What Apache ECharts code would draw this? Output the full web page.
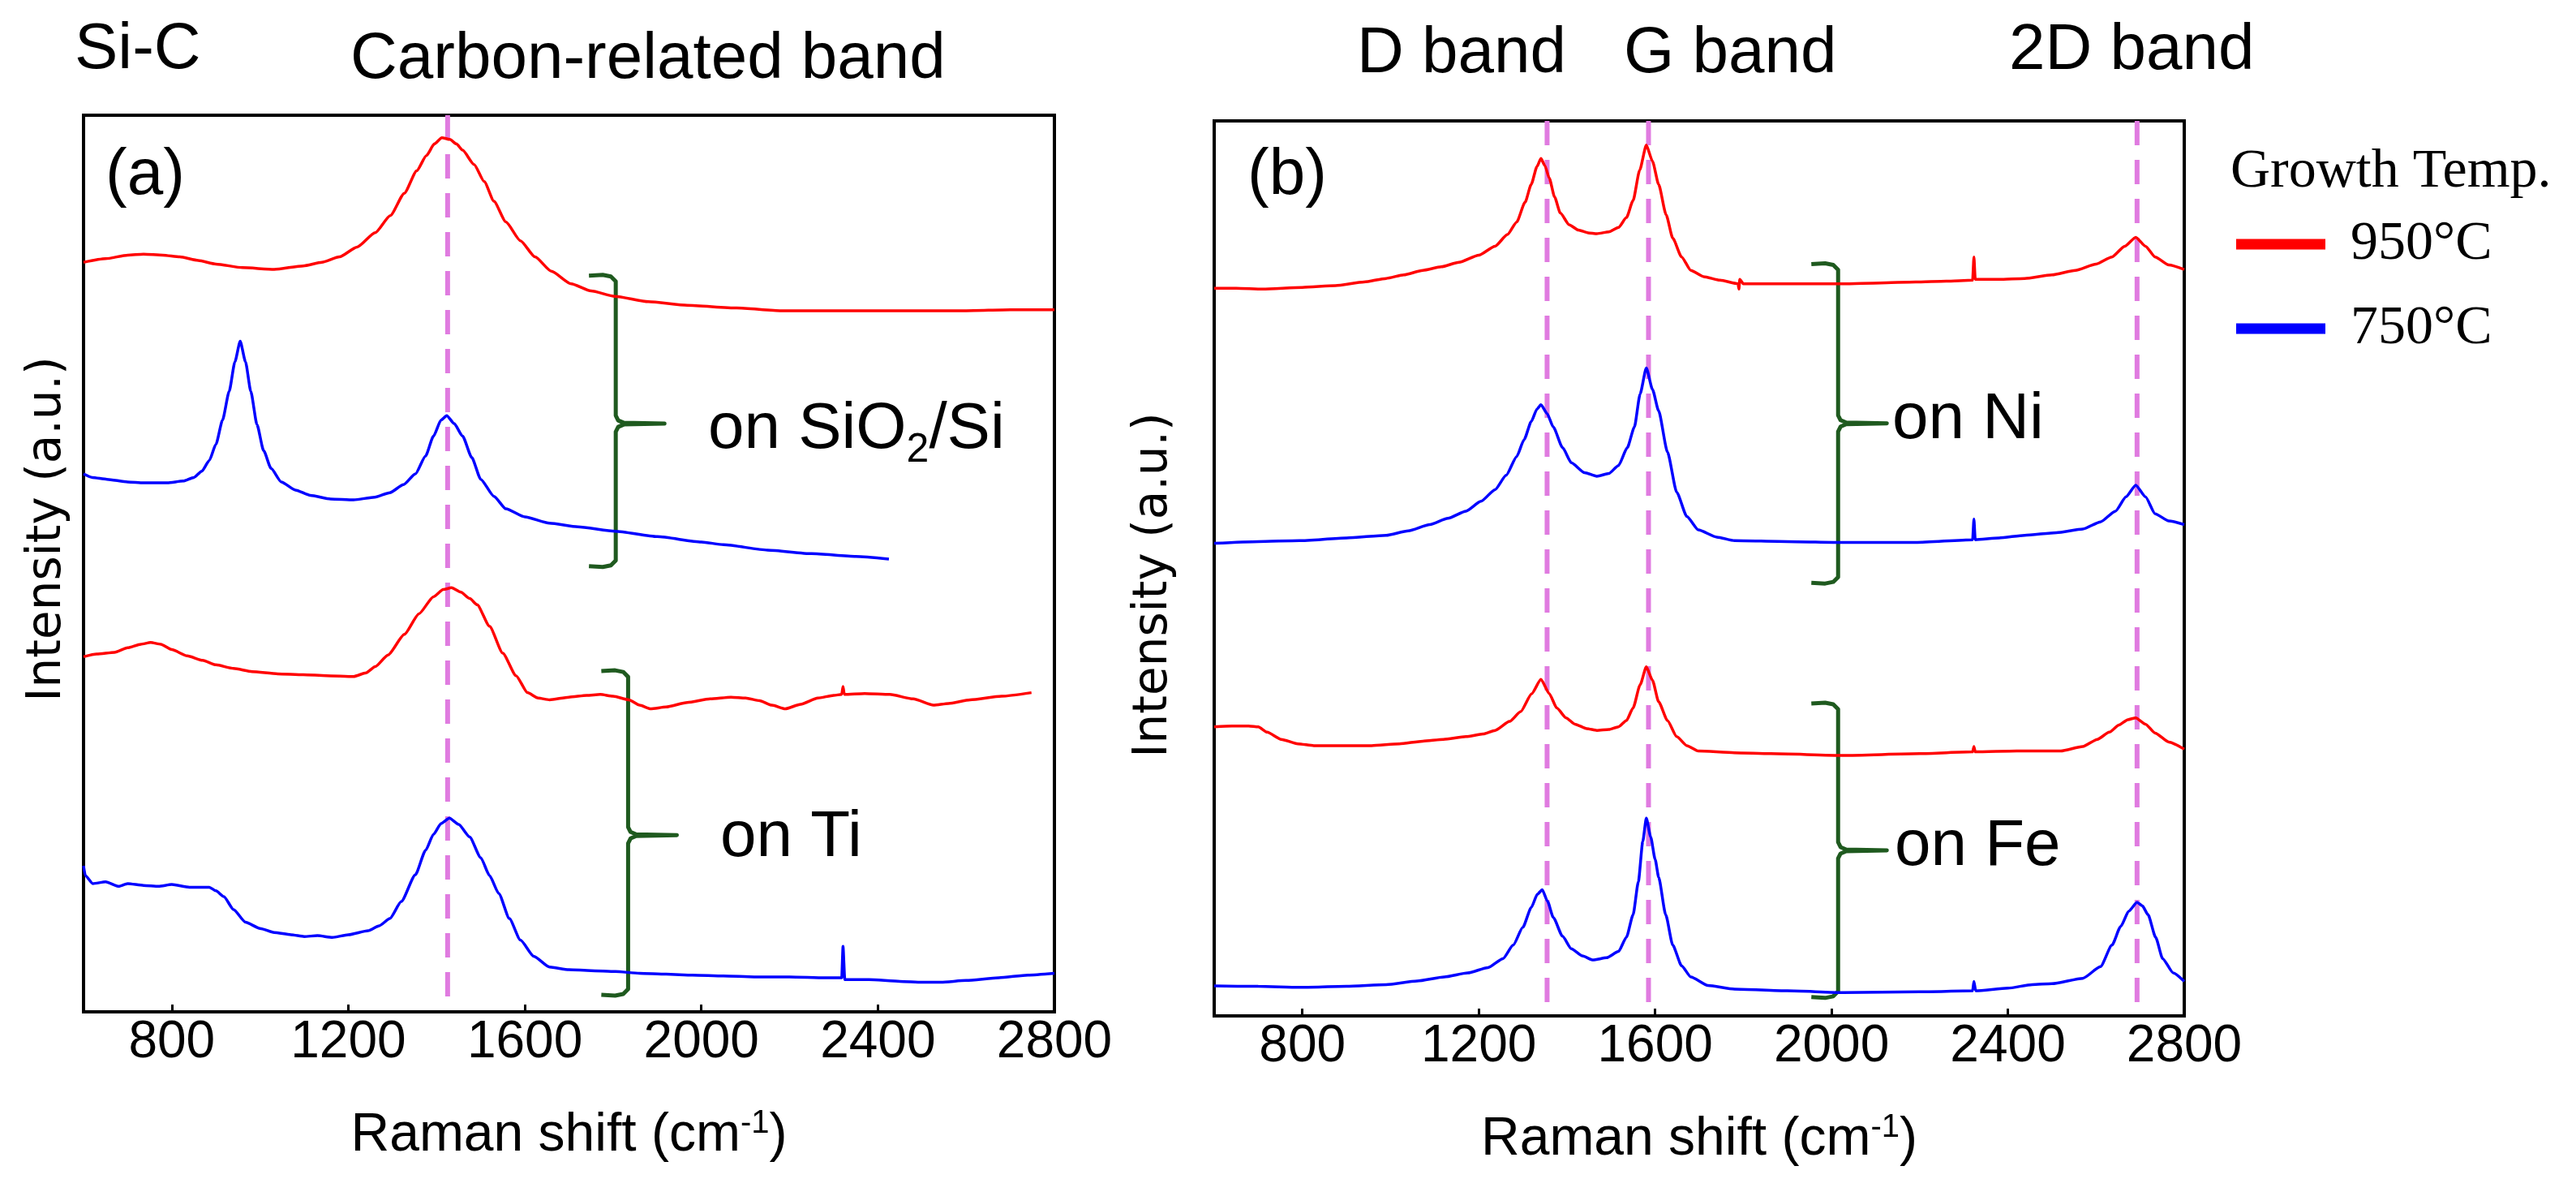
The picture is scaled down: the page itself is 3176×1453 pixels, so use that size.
<!DOCTYPE html>
<html>
<head>
<meta charset="utf-8">
<title>Raman spectra</title>
<script src="https://cdn.jsdelivr.net/npm/echarts@6/dist/echarts.min.js"></script>
<style>
html,body{margin:0;padding:0;background:#fff;}
#main{width:3176px;height:1453px;}
</style>
</head>
<body>
<div id="main"></div>
<script>
// tick values on both raman axes
var xTicks = [800, 1200, 1600, 2000, 2400, 2800];

// panel (a): [raman shift, offset intensity]
var a950SiO2 = [[600,83.6],[650,84.0],[700,84.4],[736,84.5],[780,84.4],[818,84.2],[860,83.8],[900,83.4],[960,83.0],[1032,82.8],[1098,83.2],[1140,83.6],[1180,84.2],[1220,85.3],[1261,86.9],[1295,88.8],[1327,91.3],[1355,93.8],[1377,95.5],[1395,96.8],[1412,97.5],[1430,97.3],[1445,96.8],[1459,96.1],[1485,94.5],[1508,92.6],[1530,90.4],[1557,88.1],[1590,86.0],[1623,84.2],[1660,82.6],[1705,81.2],[1750,80.4],[1804,79.8],[1880,79.2],[1968,78.8],[2080,78.5],[2181,78.2],[2300,78.2],[2450,78.2],[2600,78.2],[2700,78.3],[2800,78.3]];
var a750SiO2 = [[600,60.0],[620,59.6],[653,59.4],[700,59.1],[736,59.0],[790,59.0],[826,59.2],[850,59.6],[868,60.3],[885,61.5],[900,63.3],[915,66.0],[930,69.2],[943,72.5],[955,74.8],[967,72.5],[979,69.2],[993,65.5],[1008,62.6],[1025,60.6],[1048,59.1],[1080,58.2],[1114,57.6],[1160,57.2],[1212,57.1],[1260,57.4],[1294,57.9],[1325,58.8],[1352,60.0],[1375,62.0],[1393,64.2],[1410,66.0],[1423,66.5],[1440,65.6],[1459,64.2],[1480,61.8],[1500,59.4],[1530,57.5],[1557,56.1],[1600,55.2],[1656,54.5],[1720,54.1],[1805,53.6],[1900,53.0],[2000,52.4],[2050,52.1],[2150,51.5],[2250,51.1],[2350,50.8],[2425,50.5]];
var a950Ti = [[600,39.6],[630,39.9],[670,40.1],[700,40.6],[730,41.0],[752,41.2],[775,41.0],[800,40.4],[835,39.7],[870,39.2],[900,38.7],[940,38.3],[982,37.95],[1040,37.7],[1098,37.6],[1150,37.5],[1212,37.4],[1240,37.8],[1261,38.5],[1290,39.8],[1327,42.1],[1360,44.4],[1393,46.3],[1415,47.1],[1434,47.3],[1455,46.8],[1475,46.1],[1492,45.4],[1520,43.0],[1550,40.0],[1580,37.5],[1606,35.6],[1630,35.0],[1656,34.8],[1700,35.1],[1740,35.3],[1771,35.4],[1800,35.2],[1836,34.8],[1860,34.2],[1885,33.8],[1920,34.0],[1968,34.5],[2020,34.9],[2067,35.1],[2100,35.0],[2132,34.7],[2160,34.2],[2190,33.8],[2225,34.3],[2264,35.0],[2300,35.3],[2318,35.4],[2321,36.3],[2324,35.4],[2370,35.5],[2427,35.4],[2480,34.9],[2526,34.2],[2560,34.4],[2609,34.8],[2680,35.2],[2748,35.6]];
var a750Ti = [[600,16.3],[604,15.2],[621,14.3],[650,14.5],[680,14.0],[700,14.3],[736,14.1],[770,14.0],[800,14.2],[840,13.9],[885,13.9],[900,13.5],[918,12.85],[940,11.4],[967,10.0],[1000,9.3],[1032,8.85],[1070,8.6],[1100,8.4],[1130,8.5],[1164,8.3],[1200,8.6],[1245,9.05],[1270,9.6],[1294,10.4],[1320,12.3],[1352,15.3],[1375,18.0],[1393,19.8],[1410,21.0],[1429,21.6],[1450,20.9],[1475,19.5],[1500,17.2],[1520,15.2],[1541,13.2],[1565,10.4],[1590,8.0],[1620,6.2],[1656,5.0],[1700,4.7],[1750,4.6],[1805,4.5],[1860,4.3],[1920,4.2],[1980,4.1],[2050,4.0],[2120,3.9],[2200,3.9],[2280,3.8],[2318,3.8],[2321,7.3],[2325,3.6],[2380,3.6],[2450,3.4],[2500,3.3],[2543,3.3],[2600,3.5],[2674,3.8],[2740,4.1],[2800,4.3]];

// panel (b)
var b950Ni = [[600,81.3],[650,81.3],[710,81.2],[800,81.4],[875,81.6],[940,82.0],[990,82.4],[1030,82.8],[1073,83.3],[1115,83.7],[1155,84.2],[1200,85.0],[1237,86.0],[1265,87.3],[1286,88.7],[1305,90.9],[1319,92.9],[1332,94.9],[1341,95.8],[1350,95.0],[1360,93.6],[1372,91.5],[1385,89.7],[1405,88.4],[1426,87.8],[1448,87.5],[1468,87.4],[1495,87.6],[1517,88.1],[1535,89.2],[1550,91.1],[1565,94.5],[1580,97.3],[1594,95.5],[1608,92.9],[1625,89.5],[1640,86.9],[1660,84.8],[1681,83.3],[1710,82.6],[1747,82.2],[1788,81.8],[1790,81.2],[1792,82.3],[1800,81.8],[1862,81.8],[1950,81.8],[2027,81.8],[2110,81.9],[2191,82.0],[2260,82.1],[2320,82.2],[2323,84.8],[2326,82.3],[2380,82.3],[2438,82.4],[2500,82.8],[2553,83.3],[2600,84.0],[2636,84.8],[2665,86.0],[2690,87.0],[2712,86.0],[2734,84.8],[2765,83.9],[2800,83.4]];
var b750Ni = [[600,52.8],[700,53.0],[793,53.1],[900,53.4],[990,53.7],[1040,54.2],[1089,54.9],[1130,55.6],[1171,56.4],[1205,57.5],[1237,58.8],[1262,60.4],[1286,62.5],[1303,64.4],[1319,66.4],[1332,67.8],[1341,68.3],[1355,67.3],[1369,65.8],[1390,63.5],[1410,61.8],[1440,60.7],[1468,60.3],[1495,60.6],[1517,61.5],[1537,63.5],[1553,65.8],[1566,69.5],[1580,72.4],[1594,70.0],[1608,67.6],[1628,63.0],[1649,58.5],[1672,55.8],[1698,54.3],[1740,53.5],[1780,53.1],[1900,53.0],[2027,52.9],[2191,52.9],[2320,53.2],[2323,55.5],[2326,53.2],[2380,53.4],[2438,53.7],[2510,54.0],[2570,54.4],[2610,55.2],[2644,56.4],[2668,58.0],[2690,59.3],[2712,58.0],[2734,56.1],[2765,55.3],[2800,54.9]];
var b950Fe = [[600,32.3],[640,32.4],[678,32.4],[700,32.3],[720,31.7],[752,30.9],[790,30.4],[826,30.2],[900,30.2],[957,30.2],[1020,30.4],[1073,30.7],[1120,30.9],[1171,31.2],[1210,31.5],[1237,31.9],[1270,32.9],[1295,34.0],[1320,36.0],[1341,37.6],[1360,36.0],[1377,34.4],[1398,33.3],[1418,32.6],[1445,32.1],[1468,31.9],[1495,32.0],[1517,32.3],[1535,33.0],[1550,34.4],[1566,37.0],[1580,39.0],[1594,37.5],[1608,35.1],[1628,33.0],[1649,31.2],[1672,30.2],[1698,29.6],[1780,29.4],[1862,29.3],[2027,29.1],[2200,29.3],[2320,29.5],[2323,30.1],[2326,29.5],[2420,29.6],[2520,29.6],[2570,30.1],[2603,30.9],[2630,31.7],[2652,32.5],[2672,33.1],[2690,33.3],[2712,32.6],[2734,31.6],[2765,30.6],[2800,29.8]];
var b750Fe = [[600,3.35],[700,3.3],[793,3.2],[900,3.3],[990,3.5],[1060,3.9],[1122,4.35],[1175,4.8],[1221,5.4],[1255,6.4],[1278,7.9],[1300,9.9],[1319,12.1],[1333,13.6],[1344,14.1],[1356,12.8],[1369,11.0],[1390,8.9],[1410,7.5],[1435,6.7],[1459,6.25],[1490,6.5],[1517,7.2],[1535,8.8],[1550,11.3],[1562,15.0],[1572,19.5],[1580,22.1],[1590,20.0],[1600,17.5],[1608,15.5],[1624,11.3],[1640,7.9],[1660,5.6],[1681,4.35],[1720,3.4],[1780,3.0],[1900,2.8],[2027,2.6],[2200,2.7],[2320,2.8],[2323,3.85],[2327,2.8],[2400,3.1],[2455,3.5],[2500,3.6],[2570,4.2],[2610,5.5],[2636,7.9],[2656,10.0],[2674,11.7],[2693,12.7],[2705,12.3],[2718,11.3],[2735,8.8],[2751,6.4],[2775,4.8],[2800,3.85]];

// band positions marked with dashed lines
var bandsA = [1425];
var bandsB = [1355, 1585, 2693];

// braces: [panel, x, top, middle, bottom]
var braces = [[0,1806,82.1,65.6,49.7],[0,1834,38.0,19.7,1.9],[1,2015,84.0,66.2,48.4],[1,2015,34.9,18.5,2.1]];

var RED = '#ff0000', BLUE = '#0000ff', PINK = '#e07be0', GREEN = '#1f5a1f';
var CM_PX = 1.84, V_PX = 0.0906;   // data units per pixel

function curve(name, color, data, grid){
  return {name:name, type:'line', xAxisIndex:grid, yAxisIndex:grid, data:data,
    symbol:'none', smooth:0.2, smoothMonotone:'x', z:3,
    lineStyle:{color:color, width:3.5}, itemStyle:{color:color}};
}

function bandLine(x, grid){
  return {type:'line', xAxisIndex:grid, yAxisIndex:grid, data:[[x,100],[x,1.3]],
    symbol:'none', silent:true, z:1, lineStyle:{color:PINK, width:6, type:[30,18]}};
}

function braceLine(b){
  var x=b[1], t=b[2], m=b[3], bt=b[4];
  var p = function(dx, y, dy){ return [x+dx*CM_PX, y-dy*V_PX]; };
  var pts = [p(-33,t,0),p(-16,t,-1),p(-6,t,1),p(0,t,7),p(0,t,16),
    p(0,m,-10),p(3,m,-4),p(10,m,-1),p(60,m,0),p(10,m,1),p(3,m,4),p(0,m,10),
    p(0,bt,-16),p(0,bt,-7),p(-6,bt,-1),p(-16,bt,1),p(-33,bt,0)];
  return {type:'line', xAxisIndex:b[0], yAxisIndex:b[0], data:pts, symbol:'none',
    silent:true, z:2, lineStyle:{color:GREEN, width:5, join:'round'}};
}

function xAxisFor(grid){
  return {gridIndex:grid, type:'value', min:600, max:2800,
    name:'{a|Raman shift (cm}{s|-1}{a|)}', nameLocation:'middle', nameGap:118,
    nameTextStyle:{rich:{
      a:{fontFamily:'Liberation Sans', fontSize:66, color:'#000', lineHeight:70},
      s:{fontFamily:'Liberation Sans', fontSize:40, color:'#000', verticalAlign:'top', lineHeight:40}}},
    axisLine:{show:true, lineStyle:{color:'#000', width:4}},
    axisTick:{show:true, inside:true, length:9, customValues:xTicks, lineStyle:{color:'#000', width:3}},
    axisLabel:{customValues:xTicks, fontFamily:'Liberation Sans', fontSize:64, color:'#000', margin:6,
      showMaxLabel:true, formatter:function(v){ return String(v); }},
    splitLine:{show:false}};
}

function label(text, x, y, size, extra){
  var el = {type:'text', x:x, y:y, silent:true,
    style:{text:text, fill:'#000', fontFamily:'Liberation Sans', fontSize:size,
      textAlign:'left', textVerticalAlign:'middle'}};
  if(extra){ for(var k in extra){ el.style[k] = extra[k]; } }
  return el;
}

var series = [];
bandsA.forEach(function(x){ series.push(bandLine(x,0)); });
bandsB.forEach(function(x){ series.push(bandLine(x,1)); });
braces.forEach(function(b){ series.push(braceLine(b)); });
series.push(curve('950°C', RED, a950SiO2, 0));
series.push(curve('750°C', BLUE, a750SiO2, 0));
series.push(curve('950°C', RED, a950Ti, 0));
series.push(curve('750°C', BLUE, a750Ti, 0));
series.push(curve('950°C', RED, b950Ni, 1));
series.push(curve('750°C', BLUE, b750Ni, 1));
series.push(curve('950°C', RED, b950Fe, 1));
series.push(curve('750°C', BLUE, b750Fe, 1));

var subRich = {
  a:{fontFamily:'Liberation Sans', fontSize:80, color:'#000', lineHeight:100},
  s:{fontFamily:'Liberation Sans', fontSize:50, color:'#000', lineHeight:50, verticalAlign:'bottom'}
};

var graphics = [
  label('Si-C', 92, 62, 80),
  label('Carbon-related band', 432, 74, 80),
  label('D band', 1673, 67, 80),
  label('G band', 2002, 67, 80),
  label('2D band', 2477, 63, 80),
  label('(a)', 130, 217, 80),
  label('(b)', 1538, 217, 80),
  label('{a|on SiO}{s|2}{a|/Si}', 873, 530, 80, {rich:subRich}),
  label('on Ti', 888, 1033, 80),
  label('on Ni', 2333, 518, 80),
  label('on Fe', 2336, 1044, 80),
  label('Growth Temp.', 2750, 212, 68, {fontFamily:'Liberation Serif'}),
  {type:'text', x:59, y:652, rotation:Math.PI/2, silent:true,
    style:{text:'Intensity (a.u.)', fill:'#000', fontFamily:'DejaVu Sans', fontSize:58, textAlign:'center', textVerticalAlign:'middle'}},
  {type:'text', x:1423, y:721, rotation:Math.PI/2, silent:true,
    style:{text:'Intensity (a.u.)', fill:'#000', fontFamily:'DejaVu Sans', fontSize:58, textAlign:'center', textVerticalAlign:'middle'}}
];

var myChart = echarts.init(document.getElementById('main'));
var option = {
  backgroundColor:'#ffffff',
  animation:false,
  grid:[
    {left:103, top:142, width:1197, height:1105, show:true, borderColor:'#000', borderWidth:4},
    {left:1497, top:149, width:1196, height:1103, show:true, borderColor:'#000', borderWidth:4}
  ],
  xAxis:[xAxisFor(0), xAxisFor(1)],
  yAxis:[
    {gridIndex:0, type:'value', min:0, max:100, show:false},
    {gridIndex:1, type:'value', min:0, max:100, show:false}
  ],
  legend:{
    data:['950°C','750°C'], orient:'vertical', left:2752, top:262,
    icon:'rect', itemWidth:110, itemHeight:13, itemGap:36,
    textStyle:{fontFamily:'Liberation Serif', fontSize:68, color:'#000', padding:[0,0,0,26]}
  },
  graphic:graphics,
  series:series
};
myChart.setOption(option);
</script>
</body>
</html>
